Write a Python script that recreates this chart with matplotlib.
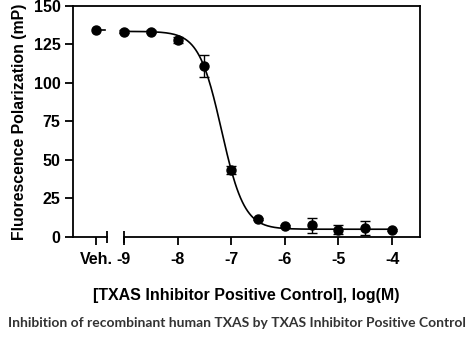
import numpy as np
import matplotlib.pyplot as plt

# measured points
veh_x = -9.52
veh_y = 134.5
log_conc = np.array([-9.0, -8.5, -8.0, -7.5, -7.0, -6.5, -6.0, -5.5, -5.0, -4.5, -4.0])
fp = np.array([133.3, 133.3, 128.0, 111.0, 43.5, 11.5, 7.0, 7.5, 4.8, 5.6, 4.5])
fp_err = np.array([0.8, 0.8, 2.0, 7.0, 2.5, 0.8, 0.8, 4.7, 3.0, 4.5, 0.8])

# 4PL fit parameters
top, bottom, log_ic50, hill = 133.5, 5.0, -7.18, 2.05

tick_pos = [veh_x, -9, -8, -7, -6, -5, -4]
tick_lab = ['Veh.', '-9', '-8', '-7', '-6', '-5', '-4']

plt.rcParams['font.family'] = ['Liberation Sans', 'DejaVu Sans']
plt.rcParams['font.weight'] = 'bold'

fig = plt.figure(figsize=(4.74, 3.51), dpi=100)
ax = fig.add_axes([0.154, 0.325, 0.732, 0.658])

xc = np.linspace(-9, -4, 300)
yc = bottom + (top - bottom) / (1 + 10 ** ((xc - log_ic50) * hill))
ax.plot(xc, yc, color='black', lw=1.2)
ax.plot([veh_x, veh_x + 0.17], [veh_y, veh_y], color='black', lw=1.2)

ax.errorbar(log_conc, fp, yerr=fp_err, fmt='o', color='black', ms=6.5,
            capsize=3.5, elinewidth=1, capthick=1, clip_on=False, zorder=3)
ax.plot([veh_x], [veh_y], 'o', color='black', ms=6.5)

ax.set_xlim(-9.95, -3.48)
ax.set_ylim(0, 150)
ax.set_yticks(np.arange(0, 151, 25))
ax.set_xticks(tick_pos)
ax.set_xticklabels(tick_lab)
ax.tick_params(direction='out', length=6, width=1.3, labelsize=11.5)
ax.tick_params(axis='x', pad=5)
ax.tick_params(axis='y', pad=3)

for s in ['left', 'right', 'top']:
    ax.spines[s].set_linewidth(1.3)
ax.spines['bottom'].set_visible(False)

# broken x axis
ax.plot([-9.95, -9.32], [0, 0], color='black', lw=1.3, clip_on=False)
ax.plot([-9.0, -3.48], [0, 0], color='black', lw=1.3, clip_on=False)
ax.plot([-9.32, -9.0], [0, 0], '|', color='black', ms=9, mew=1.3, clip_on=False)

ax.set_ylabel('Fluorescence Polarization (mP)', fontsize=11.4, fontweight='bold', labelpad=5)
ax.set_xlabel('[TXAS Inhibitor Positive Control], log(M)', fontsize=11.5,
              fontweight='bold', labelpad=15)

fig.text(0.5, 0.08, 'Inhibition of recombinant human TXAS by TXAS Inhibitor Positive Control',
         ha='center', va='center', fontsize=10, family='Lato', fontweight='bold',
         color='#333333')

fig.savefig('out.png', dpi=100)
